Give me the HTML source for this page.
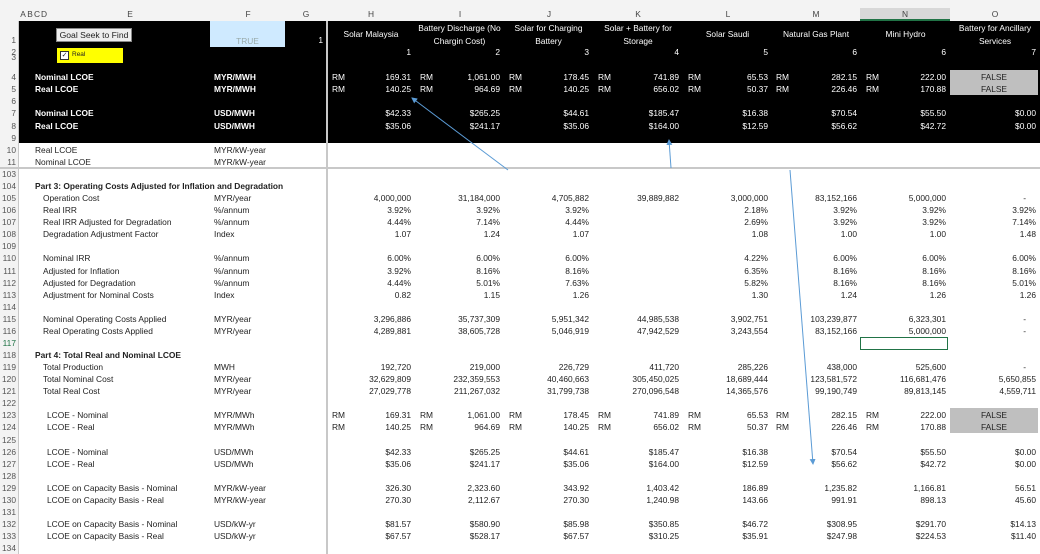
<!DOCTYPE html>
<html><head><meta charset="utf-8">
<style>
body{margin:0;width:1040px;height:554px;overflow:hidden;background:#fff;font-family:"Liberation Sans",sans-serif;font-size:8.4px;color:#222;position:relative}
.t{position:absolute;white-space:nowrap;line-height:10px;height:10px}
.b{position:absolute}
.w{color:#fff}
.bold{font-weight:bold}
</style></head>
<body>
<div class="b" style="left:0;top:0;width:1040px;height:21px;background:#f3f3f3;border-bottom:1px solid #c8c8c8"></div>
<div class="b" style="left:0;top:21px;width:18px;height:533px;background:#f3f3f3;border-right:1px solid #c8c8c8"></div>
<div class="b" style="left:19px;top:21px;width:1021px;height:122px;background:#000"></div>
<div class="b" style="left:210px;top:21px;width:75px;height:26px;background:#cfeaff"></div>
<div class="t" style="left:210px;top:36px;width:75px;text-align:center;color:#9aa">TRUE</div>
<div class="b" style="left:56px;top:28px;width:76px;height:14px;background:#eee;border:1px solid #888;box-sizing:border-box;text-align:center;line-height:12px;font-size:8.6px;color:#222">Goal Seek to Find</div>
<div class="b" style="left:57px;top:48px;width:66px;height:15px;background:#ffff00"><div style="position:absolute;left:3px;top:3px;width:7px;height:7px;border:1px solid #333;background:#fff;font-size:7px;line-height:7px;text-align:center">✓</div><div style="position:absolute;left:15px;top:3px;font-size:6.5px">Real</div></div>
<div class="b" style="left:860px;top:8px;width:90px;height:13px;background:#d8d8d8;border-bottom:2px solid #217346;box-sizing:border-box"></div>
<div class="b" style="left:860px;top:337px;width:88px;height:13px;border:1px solid #217346;box-sizing:border-box"></div>
<div class="b" style="left:326px;top:21px;width:2px;height:533px;background:#c8c8c8"></div>
<div class="b" style="left:0;top:167px;width:1040px;height:2px;background:#c8c8c8"></div>
<svg class="b" style="left:0;top:0" width="1040" height="554">
<defs><marker id="ah" markerWidth="6" markerHeight="6" refX="5" refY="3" orient="auto"><path d="M0,0L6,3L0,6z" fill="#5b9bd5"/></marker></defs>
<line x1="508" y1="170" x2="412" y2="98" stroke="#5b9bd5" stroke-width="1" marker-end="url(#ah)"/>
<line x1="671" y1="168" x2="669" y2="140" stroke="#5b9bd5" stroke-width="1" marker-end="url(#ah)"/>
<line x1="790" y1="170" x2="813" y2="464" stroke="#5b9bd5" stroke-width="1" marker-end="url(#ah)"/>
</svg>
<div id="root"></div>
<script>
const colLetters=["A","B","C","D","E","F","G","H","I","J","K","L","M","N","O"];
const colCenters=[23,30,37,44,130,248,306,371,460,549,638,728,816,905,995];
const colRight=[411,500,589,679,768,857,946,1036];
const colLeft=[332,420,509,598,688,776,866,955];
const headers=[["Solar Malaysia"],["Battery Discharge (No","Chargin Cost)"],["Solar for Charging","Battery"],["Solar + Battery for","Storage"],["Solar Saudi"],["Natural Gas Plant"],["Mini Hydro"],["Battery for Ancillary","Services"]];
const techIds=["1","2","3","4","5","6","6","7"];
const topRowNums=[1,2,3,4,5,6,7,8,9,10,11];
const topRowY=[40,52,57,77,89,101,113,126,138,150,162];
const rmNominal=["169.31","1,061.00","178.45","741.89","65.53","282.15","222.00"];
const rmReal=["140.25","964.69","140.25","656.02","50.37","226.46","170.88"];
const usdNominal=["$42.33","$265.25","$44.61","$185.47","$16.38","$70.54","$55.50","$0.00"];
const usdReal=["$35.06","$241.17","$35.06","$164.00","$12.59","$56.62","$42.72","$0.00"];
const lowerRows=[
[104,"Part 3: Operating Costs Adjusted for Inflation and Degradation","",null,1],
[105,"Operation Cost","MYR/year",["4,000,000","31,184,000","4,705,882","39,889,882","3,000,000","83,152,166","5,000,000","-"]],
[106,"Real IRR","%/annum",["3.92%","3.92%","3.92%","","2.18%","3.92%","3.92%","3.92%"]],
[107,"Real IRR Adjusted for Degradation","%/annum",["4.44%","7.14%","4.44%","","2.69%","3.92%","3.92%","7.14%"]],
[108,"Degradation Adjustment Factor","Index",["1.07","1.24","1.07","","1.08","1.00","1.00","1.48"]],
[110,"Nominal IRR","%/annum",["6.00%","6.00%","6.00%","","4.22%","6.00%","6.00%","6.00%"]],
[111,"Adjusted for Inflation","%/annum",["3.92%","8.16%","8.16%","","6.35%","8.16%","8.16%","8.16%"]],
[112,"Adjusted for Degradation","%/annum",["4.44%","5.01%","7.63%","","5.82%","8.16%","8.16%","5.01%"]],
[113,"Adjustment for Nominal Costs","Index",["0.82","1.15","1.26","","1.30","1.24","1.26","1.26"]],
[115,"Nominal Operating Costs Applied","MYR/year",["3,296,886","35,737,309","5,951,342","44,985,538","3,902,751","103,239,877","6,323,301","-"]],
[116,"Real Operating Costs Applied","MYR/year",["4,289,881","38,605,728","5,046,919","47,942,529","3,243,554","83,152,166","5,000,000","-"]],
[118,"Part 4: Total Real and Nominal LCOE","",null,1],
[119,"Total Production","MWH",["192,720","219,000","226,729","411,720","285,226","438,000","525,600","-"]],
[120,"Total Nominal Cost","MYR/year",["32,629,809","232,359,553","40,460,663","305,450,025","18,689,444","123,581,572","116,681,476","5,650,855"]],
[121,"Total Real Cost","MYR/year",["27,029,778","211,267,032","31,799,738","270,096,548","14,365,576","99,190,749","89,813,145","4,559,711"]],
[123,"LCOE - Nominal","MYR/MWh",rmNominal,2],
[124,"LCOE - Real","MYR/MWh",rmReal,2],
[126,"LCOE - Nominal","USD/MWh",usdNominal,3],
[127,"LCOE - Real","USD/MWh",usdReal,3],
[129,"LCOE on Capacity Basis - Nominal","MYR/kW-year",["326.30","2,323.60","343.92","1,403.42","186.89","1,235.82","1,166.81","56.51"],3],
[130,"LCOE on Capacity Basis - Real","MYR/kW-year",["270.30","2,112.67","270.30","1,240.98","143.66","991.91","898.13","45.60"],3],
[132,"LCOE on Capacity Basis - Nominal","USD/kW-yr",["$81.57","$580.90","$85.98","$350.85","$46.72","$308.95","$291.70","$14.13"],3],
[133,"LCOE on Capacity Basis - Real","USD/kW-yr",["$67.57","$528.17","$67.57","$310.25","$35.91","$247.98","$224.53","$11.40"],3]
];
const root=document.getElementById('root');
function txt(s,x,y,align,cls,name,w){
  const d=document.createElement('div');
  d.className='t '+(cls||'');
  
  
  d.textContent=s;
  let W=w||120;
  if(align==='r'){d.style.left=(x-W)+'px';d.style.width=W+'px';d.style.textAlign='right';}
  else if(align==='c'){d.style.left=(x-W/2)+'px';d.style.width=W+'px';d.style.textAlign='center';}
  else d.style.left=x+'px';
  d.style.top=(y-5)+'px';
  root.appendChild(d);return d;
}
function rowY(r){return 174+(r-103)*12.07;}
colLetters.forEach((c,i)=>txt(c,colCenters[i],14,'c','','column-header-'+c.toLowerCase(),20).style.color='#444');
topRowNums.forEach((n,i)=>txt(String(n),16,topRowY[i],'r','','row-number',16).style.color='#555');
for(let r=103;r<=134;r++){const e=txt(String(r),16,rowY(r),'r','','row-number',16);e.style.color=r===117?'#217346':'#555';}
headers.forEach((h,i)=>{const cx=(colLeft[i]-5+colRight[i]+4)/2;
  if(h.length===1) txt(h[0],cx,34,'c','w','tech-header',100);
  else{txt(h[0],cx,28,'c','w','tech-header',100);txt(h[1],cx,41,'c','w','tech-header',100);} });
txt("1",323,40,'r','w','g1-value',20);
techIds.forEach((v,i)=>txt(v,colRight[i],52,'r','w','tech-id',20));
[[77,"Nominal LCOE","MYR/MWH",rmNominal],[89,"Real LCOE","MYR/MWH",rmReal]].forEach(([y,l,u,vals])=>{
  txt(l,35,y,'l','w bold','summary-label');txt(u,214,y,'l','w bold','summary-unit');
  vals.forEach((v,i)=>{txt("RM",colLeft[i],y,'l','w','currency-label');txt(v,colRight[i],y,'r','w','summary-value');});
});
[[113,"Nominal LCOE","USD/MWH",usdNominal],[126,"Real LCOE","USD/MWH",usdReal]].forEach(([y,l,u,vals])=>{
  txt(l,35,y,'l','w bold','summary-label');txt(u,214,y,'l','w bold','summary-unit');
  vals.forEach((v,i)=>txt(v,colRight[i],y,'r','w','summary-value'));
});
function falseBox(y){const d=document.createElement('div');d.className='b';
  
  
  d.style.cssText='left:950px;top:'+(y-7)+'px;width:88px;height:25px;background:#bfbfbf';root.appendChild(d);
  txt("FALSE",994,y,'c','','false-value',80);txt("FALSE",994,y+12,'c','','false-value',80);}
falseBox(77);
txt("Real LCOE",35,150,'l','','row-label');txt("MYR/kW-year",214,150,'l','','row-unit');
txt("Nominal LCOE",35,162,'l','','row-label');txt("MYR/kW-year",214,162,'l','','row-unit');
lowerRows.forEach(([r,l,u,vals,kind])=>{const y=rowY(r);
  if(kind===1){txt(l,35,y,'l','bold','section-title');return;}
  txt(l,kind?47:43,y,'l','','row-label');txt(u,214,y,'l','','row-unit');
  vals.forEach((v,i)=>{ if(kind===2) txt("RM",colLeft[i],y,'l','','currency-label');
    txt(v,v==="-"?1026:colRight[i],y,'r','','cell-value');});
});
falseBox(rowY(123));
</script>
</body></html>
